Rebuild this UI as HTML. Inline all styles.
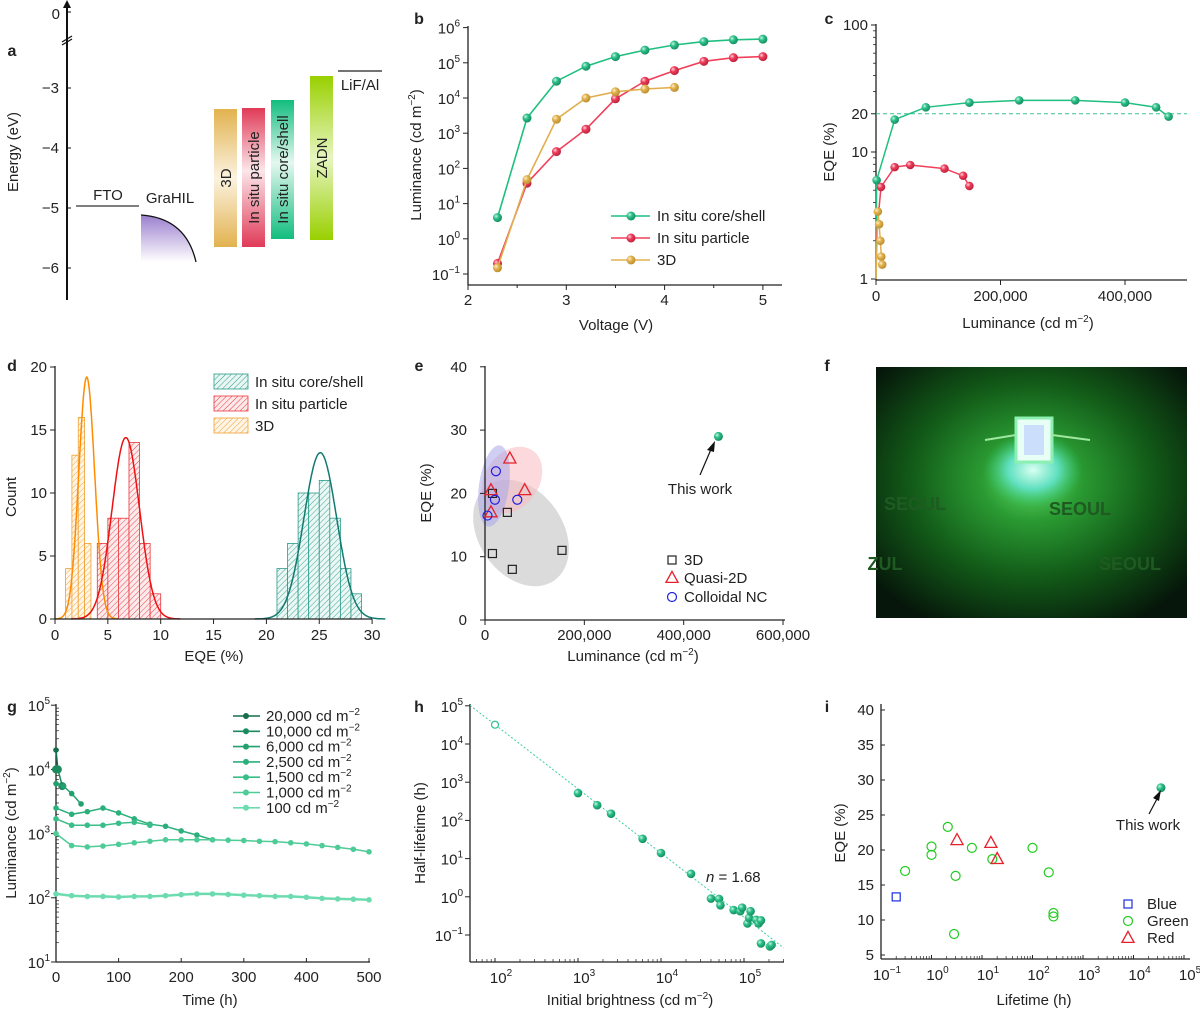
<!DOCTYPE html>
<html><head><meta charset="utf-8"><style>
html,body{margin:0;padding:0;background:#fff;}
svg{display:block;font-family:"Liberation Sans",sans-serif;}
</style></head><body>
<svg id="fig" width="1200" height="1011" viewBox="0 0 1200 1011" xmlns="http://www.w3.org/2000/svg">
<defs>
<linearGradient id="g3d" x1="0" y1="0" x2="0" y2="1"><stop offset="0" stop-color="#e2b24f"/><stop offset="0.5" stop-color="#fbf2df"/><stop offset="1" stop-color="#e2b24f"/></linearGradient>
<linearGradient id="gpa" x1="0" y1="0" x2="0" y2="1"><stop offset="0" stop-color="#e03a57"/><stop offset="0.45" stop-color="#fbe6ea"/><stop offset="1" stop-color="#e03a57"/></linearGradient>
<linearGradient id="gcs" x1="0" y1="0" x2="0" y2="1"><stop offset="0" stop-color="#12bd7e"/><stop offset="0.45" stop-color="#e4f8f0"/><stop offset="1" stop-color="#12bd7e"/></linearGradient>
<linearGradient id="gza" x1="0" y1="0" x2="0" y2="1"><stop offset="0" stop-color="#99d000"/><stop offset="0.5" stop-color="#e6f5c0"/><stop offset="1" stop-color="#99d000"/></linearGradient>
<linearGradient id="ggr" x1="0" y1="0" x2="0" y2="1"><stop offset="0" stop-color="#9b7fcf"/><stop offset="1" stop-color="#ffffff"/></linearGradient>
<pattern id="hT" width="4" height="4" patternUnits="userSpaceOnUse" patternTransform="rotate(45)"><rect width="4" height="4" fill="#e9f6f3"/><line x1="0" y1="0" x2="0" y2="4" stroke="#2a9b88" stroke-width="1"/></pattern>
<pattern id="hR" width="4" height="4" patternUnits="userSpaceOnUse" patternTransform="rotate(45)"><rect width="4" height="4" fill="#fde9ea"/><line x1="0" y1="0" x2="0" y2="4" stroke="#e8353c" stroke-width="1"/></pattern>
<pattern id="hO" width="4" height="4" patternUnits="userSpaceOnUse" patternTransform="rotate(45)"><rect width="4" height="4" fill="#fff5e6"/><line x1="0" y1="0" x2="0" y2="4" stroke="#f0a030" stroke-width="1"/></pattern>
<radialGradient id="glow" cx="0.5" cy="0.45" r="0.65"><stop offset="0" stop-color="#5fe06a"/><stop offset="0.25" stop-color="#2a9a32"/><stop offset="0.6" stop-color="#125a18"/><stop offset="1" stop-color="#06160a"/></radialGradient>
<radialGradient id="glow2" cx="0.5" cy="0.5" r="0.5"><stop offset="0" stop-color="#d8fff0"/><stop offset="0.5" stop-color="#60e0c0"/><stop offset="1" stop-color="#2fbf60" stop-opacity="0"/></radialGradient>
<radialGradient id="ball" cx="0.35" cy="0.35" r="0.7"><stop offset="0" stop-color="#c8f5e2"/><stop offset="0.4" stop-color="#2cc08a"/><stop offset="1" stop-color="#138a5c"/></radialGradient>
<radialGradient id="ballR" cx="0.35" cy="0.35" r="0.7"><stop offset="0" stop-color="#ffd6dc"/><stop offset="0.4" stop-color="#ee3c5a"/><stop offset="1" stop-color="#b81f3a"/></radialGradient>
<radialGradient id="ballY" cx="0.35" cy="0.35" r="0.7"><stop offset="0" stop-color="#fff0cc"/><stop offset="0.4" stop-color="#e2b24f"/><stop offset="1" stop-color="#b88a2a"/></radialGradient>
</defs>
<g id="root"></g>
</svg>
<script>
// ---------- data ----------
// panel b
const bVolt = [2.3,2.6,2.9,3.2,3.5,3.8,4.1,4.4,4.7,5.0];
const bCore = [4,2700,30000,80000,150000,230000,320000,400000,450000,470000];
const bPart = [0.2,38,300,1300,9500,30000,60000,110000,140000,150000];
const b3DVolt = [2.3,2.6,2.9,3.2,3.5,3.8,4.1];
const b3D = [0.15,48,2500,10000,15000,18000,20000];
// panel c
const cCoreL = [0,1000,30000,80000,150000,230000,320000,400000,450000,470000];
const cCoreE = [1,6,18,22.5,24.5,25.5,25.5,24.5,22.5,19];
const cPartL = [0,8000,30000,55000,110000,140000,150000];
const cPartE = [2,5.3,7.6,7.9,7.4,6.5,5.4];
const c3DL = [0,3000,5000,7000,8500,10000];
const c3DE = [1,3.4,2.7,2.0,1.5,1.3];
// panel d
const d3DEdges = [1.0,1.6,2.2,2.8,3.4,4.0];
const d3DCounts = [4,13,16,6,0];
const dPartEdges = [4,5,6,7,8,9,10];
const dPartCounts = [6,8,8,14,6,2];
const dCoreEdges = [21,22,23,24,25,26,27,28,29];
const dCoreCounts = [4,6,10,10,11,8,4,2];
const dFitMean = [3.0,6.7,25.1];
const dFitSd = [0.75,1.3,1.55];
const dFitAmp = [19.2,14.4,13.2];
// panel e
const e3DL = [15000,55000,155000,45000,15000];
const e3DE = [10.5,8,11,17,20];
const eQ2DL = [12000,50000,80000,12000];
const eQ2DE = [20.5,25.5,20.5,17];
const eNCL = [22000,20000,65000,5000];
const eNCE = [23.5,19,19,16.5];
const eThisL = [470000];
const eThisE = [29];
// panel g
const gTime = [0,25,50,75,100,125,150,175,200,225,250,275,300,325,350,375,400,425,450,475,500];
const g20000 = [20000,10000];
const g20000T = [0,3];
const g10000 = [10000,10000,5500];
const g10000T = [0,3,10];
const g6000 = [6000,5500,4200,2900];
const g6000T = [0,12,25,40];
const g2500 = [2500,2000,2200,2500,2100,1700,1400,1300,1100,950,800];
const g1500 = [1700,1350,1350,1350,1450,1500,1350];
const g1000 = [1000,650,620,640,680,720,760,800,800,800,800,790,780,760,750,720,690,650,610,570,520];
const g100 = [115,108,105,105,103,105,105,108,112,115,115,113,110,108,105,105,102,98,96,95,93];
const gLabels = ['20,000','10,000','6,000','2,500','1,500','1,000','100'];
// panel h
const hBright = [1000,1700,2500,6000,10000,23000,40000,50000,52000,75000,90000,95000,110000,115000,120000,140000,150000,160000,160000,205000,215000];
const hLife = [520,250,150,33,14,4,0.9,0.88,0.6,0.45,0.42,0.52,0.2,0.28,0.42,0.25,0.2,0.24,0.06,0.05,0.055];
const hOpenB = [100];
const hOpenL = [32000];
// panel i
const iBlueT = [0.2];
const iBlueE = [13.3];
const iGreenT = [0.3,1,1,2.1,3,2.8,6.3,16,100,210,260,260];
const iGreenE = [17,20.5,19.3,23.3,16.3,8,20.3,18.7,20.3,16.8,11,10.5];
const iRedT = [3.2,15,20];
const iRedE = [21.4,21,18.7];
const iThisT = [35000];
const iThisE = [28.9];

// ---------- helpers ----------
const NS = 'http://www.w3.org/2000/svg';
const root = document.getElementById('root');
function nm(el, n){
  
  
  return el;
}
function mk(tag, a, parent){
  const e = document.createElementNS(NS, tag);
  for (const k in a) e.setAttribute(k, a[k]);
  (parent||root).appendChild(e);
  return e;
}
function G(n){ const g = mk('g',{}); nm(g,n); return g; }
function ln(p,x1,y1,x2,y2,c,w,n,dash){ const e=mk('line',{x1,y1,x2,y2,stroke:c||'#222','stroke-width':w||1.3},p); if(dash)e.setAttribute('stroke-dasharray',dash); nm(e,n||'axis-line'); return e; }
function tx(p,x,y,s,n,opt){ opt=opt||{}; const e=mk('text',{x,y,'font-size':opt.fs||15,'text-anchor':opt.a||'middle',fill:opt.c||'#222'},p); if(opt.fw)e.setAttribute('font-weight',opt.fw); if(opt.rot)e.setAttribute('transform','rotate('+opt.rot+' '+x+' '+y+')'); if(opt.it)e.setAttribute('font-style','italic'); e.textContent=s; nm(e,n); return e; }
function pow(p,x,y,exp,n,anchor){ const e=mk('text',{x,y,'font-size':15,'text-anchor':anchor||'end',fill:'#222'},p); nm(e,n); const t1=mk('tspan',{},e); t1.textContent='10'; const t2=mk('tspan',{dy:-7,'font-size':10},e); t2.textContent=exp; return e; }
function unitLabel(p,x,y,pre,post,n,rot){ const e=mk('text',{x,y,'font-size':15,'text-anchor':'middle',fill:'#222'},p); if(rot)e.setAttribute('transform','rotate(-90 '+x+' '+y+')'); nm(e,n); const a=mk('tspan',{},e); a.textContent=pre; const b=mk('tspan',{dy:-6,'font-size':10},e); b.textContent='−2'; const c=mk('tspan',{dy:6},e); c.textContent=post; return e; }
function path(p,pts,c,w,n){ const e=mk('path',{d:'M'+pts.map(q=>q[0].toFixed(1)+','+q[1].toFixed(1)).join('L'),fill:'none',stroke:c,'stroke-width':w||1.5},p); nm(e,n); return e; }
function dot(p,x,y,r,fill,n,stroke){ const e=mk('circle',{cx:x,cy:y,r,fill,stroke:stroke||'none','stroke-width':1.2},p); nm(e,n); return e; }
function sq(p,x,y,s,c,n){ const e=mk('rect',{x:x-s/2,y:y-s/2,width:s,height:s,fill:'none',stroke:c,'stroke-width':1.2},p); nm(e,n); return e; }
function tri(p,x,y,s,c,n){ const e=mk('path',{d:`M${x},${y-s*0.6}L${x+s*0.55},${y+s*0.4}L${x-s*0.55},${y+s*0.4}Z`,fill:'none',stroke:c,'stroke-width':1.3},p); nm(e,n); return e; }
const L10 = Math.log10;

// ---------- panel a ----------
(function(){
  const p = G('panel-a');
  tx(p,12,56,'a','panel-label',{fw:'bold',fs:16});
  ln(p,67,6,67,300,'#111',2,'energy-axis');
  const ar=mk('path',{d:'M63,8L67,0L71,8Z',fill:'#111'},p); nm(ar,'axis-arrow');
  ln(p,62,42,72,36,'#111',1.3,'axis-break'); ln(p,62,45,72,39,'#111',1.3,'axis-break');
  const ey = v => 88 + (-3 - v) * 60;
  tx(p,60,19,'0','y-tick-label',{a:'end'}); ln(p,67,12,71,12,'#111',1,'y-tick');
  [-3,-4,-5,-6].forEach(v=>{ tx(p,59,ey(v)+5,'−'+Math.abs(v),'y-tick-label',{a:'end'}); ln(p,67,ey(v),71,ey(v),'#111',1,'y-tick'); });
  tx(p,18,152,'Energy (eV)','y-axis-title',{rot:-90});
  ln(p,76,206,139,206,'#555',1.5,'fto-level'); tx(p,108,200,'FTO','fto-label');
  tx(p,170,203,'GraHIL','grahil-label');
  const gr=mk('path',{d:'M141,215 Q186,218 196,262 L141,262 Z',fill:'url(#ggr)'},p); nm(gr,'grahil-band');
  const gc=mk('path',{d:'M141,215 Q186,218 196,262',fill:'none',stroke:'#111','stroke-width':1.3},p); nm(gc,'grahil-edge');
  const bars=[[214,109,247,'url(#g3d)','3D','bar-3d'],[242,108,247,'url(#gpa)','In situ particle','bar-in-situ-particle'],[271,100,239,'url(#gcs)','In situ core/shell','bar-in-situ-core-shell'],[310,76,240,'url(#gza)','ZADN','bar-zadn']];
  bars.forEach(b=>{ const r=mk('rect',{x:b[0],y:b[1],width:23,height:b[2]-b[1],fill:b[3]},p); nm(r,b[5]); tx(p,b[0]+17,(b[1]+b[2])/2,b[4],b[5]+'-label',{rot:-90,fs:15}); });
  ln(p,338,71,382,71,'#222',1.3,'lif-al-level'); tx(p,360,90,'LiF/Al','lif-al-label');
})();

// ---------- panel b ----------
(function(){
  const p = G('panel-b-luminance-voltage');
  const X = v => 468 + (v-2)*98.3, Y = v => 274 - (L10(v)+1)*35.2;
  tx(p,419,24,'b','panel-label',{fw:'bold',fs:16});
  ln(p,468,26,468,285,'#222',1.3,'y-axis'); ln(p,468,285,782,285,'#222',1.3,'x-axis');
  for(let e=-1;e<=6;e++){ pow(p,460,Y(Math.pow(10,e))+6,String(e).replace('-','−'),'y-tick-label'); ln(p,463,Y(Math.pow(10,e)),468,Y(Math.pow(10,e)),'#222',1,'y-tick'); }
  [2,3,4,5].forEach(v=>{ tx(p,X(v),305,String(v),'x-tick-label'); ln(p,X(v),285,X(v),290,'#222',1,'x-tick'); });
  [2.5,3.5,4.5].forEach(v=>ln(p,X(v),285,X(v),288,'#222',1,'x-minor-tick'));
  tx(p,616,330,'Voltage (V)','x-axis-title');
  unitLabel(p,421,155,'Luminance (cd m',')','y-axis-title',true);
  const ser=[[bVolt,bCore,'#1fbf80','url(#ball)','core-shell'],[bVolt,bPart,'#f0405a','url(#ballR)','particle'],[b3DVolt,b3D,'#e0b050','url(#ballY)','3d']];
  ser.forEach(s=>{ const pts=s[0].map((v,i)=>[X(v),Y(s[1][i])]); path(p,pts,s[2],1.6,'line-'+s[4]); pts.forEach(q=>dot(p,q[0],q[1],4.5,s[3],'point-'+s[4])); });
  const leg=[['In situ core/shell','#1fbf80','url(#ball)',216],['In situ particle','#f0405a','url(#ballR)',238],['3D','#e0b050','url(#ballY)',260]];
  leg.forEach(l=>{ ln(p,611,l[3],650,l[3],l[1],1.6,'legend-line'); dot(p,631,l[3],4.5,l[2],'legend-marker'); tx(p,657,l[3]+5,l[0],'legend-entry',{a:'start'}); });
})();

// ---------- panel c ----------
(function(){
  const p = G('panel-c-eqe-luminance');
  const X = v => 876 + v*0.0006225, Y = v => 279 - L10(v)*127;
  tx(p,829,24,'c','panel-label',{fw:'bold',fs:16});
  ln(p,876,24,876,280,'#222',1.3,'y-axis'); ln(p,876,280,1187,280,'#222',1.3,'x-axis');
  [[1,'1'],[10,'10'],[20,'20'],[100,'100']].forEach(t=>{ tx(p,868,Y(t[0])+5,t[1],'y-tick-label',{a:'end'}); ln(p,871,Y(t[0]),876,Y(t[0]),'#222',1,'y-tick'); });
  [2,3,4,5,6,7,8,9,30,40,50,60,70,80,90].forEach(v=>ln(p,873,Y(v),876,Y(v),'#222',0.8,'y-minor-tick'));
  [[0,'0'],[200000,'200,000'],[400000,'400,000']].forEach(t=>{ tx(p,X(t[0]),301,t[1],'x-tick-label'); ln(p,X(t[0]),280,X(t[0]),285,'#222',1,'x-tick'); });
  ln(p,876,Y(20),1187,Y(20),'#3fbf8f',1,'reference-line-20','4,3');
  unitLabel(p,1028,328,'Luminance (cd m',')','x-axis-title');
  tx(p,834,152,'EQE (%)','y-axis-title',{rot:-90});
  const ser=[[cCoreL,cCoreE,'#1fbf80','url(#ball)','core-shell'],[cPartL,cPartE,'#f0405a','url(#ballR)','particle'],[c3DL,c3DE,'#e0b050','url(#ballY)','3d']];
  ser.forEach(s=>{ const pts=s[0].map((v,i)=>[X(v),Y(s[1][i])]); path(p,pts,s[2],1.5,'line-'+s[4]); pts.slice(1).forEach(q=>dot(p,q[0],q[1],4.3,s[3],'point-'+s[4])); });
})();

// ---------- panel d ----------
(function(){
  const p = G('panel-d-histogram');
  const X = v => 55 + v*10.57, Y = v => 619 - v*12.6;
  tx(p,12,371,'d','panel-label',{fw:'bold',fs:16});
  const bars=[[d3DEdges,d3DCounts,'url(#hO)','#f0a030','3d'],[dPartEdges,dPartCounts,'url(#hR)','#e8353c','particle'],[dCoreEdges,dCoreCounts,'url(#hT)','#2a9b88','core-shell']];
  bars.forEach(b=>{ b[1].forEach((c,i)=>{ if(!c)return; const r=mk('rect',{x:X(b[0][i]),y:Y(c),width:X(b[0][i+1])-X(b[0][i]),height:Y(0)-Y(c),fill:b[2],stroke:b[3],'stroke-width':0.8,'fill-opacity':0.9},p); nm(r,'hist-bar-'+b[4]); }); });
  const fc=['#ff8c00','#ee1111','#127a70'];
  dFitMean.forEach((m,k)=>{ const pts=[]; for(let x=m-4*dFitSd[k];x<=m+4*dFitSd[k];x+=0.05) pts.push([X(x),Y(dFitAmp[k]*Math.exp(-0.5*((x-m)/dFitSd[k])**2))]); path(p,pts,fc[k],1.5,'gaussian-fit'); });
  ln(p,55,366,55,619,'#222',1.3,'y-axis'); ln(p,55,619,372,619,'#222',1.3,'x-axis');
  [0,5,10,15,20].forEach(v=>{ tx(p,47,Y(v)+5,String(v),'y-tick-label',{a:'end'}); ln(p,50,Y(v),55,Y(v),'#222',1,'y-tick'); });
  [0,5,10,15,20,25,30].forEach(v=>{ tx(p,X(v),640,String(v),'x-tick-label'); ln(p,X(v),619,X(v),624,'#222',1,'x-tick'); });
  tx(p,214,661,'EQE (%)','x-axis-title'); tx(p,16,497,'Count','y-axis-title',{rot:-90});
  [['In situ core/shell','url(#hT)','#2a9b88',382],['In situ particle','url(#hR)','#e8353c',404],['3D','url(#hO)','#f0a030',426]].forEach(l=>{ const r=mk('rect',{x:214,y:l[3]-8,width:34,height:15,fill:l[1],stroke:l[2],'stroke-width':0.8},p); nm(r,'legend-swatch'); tx(p,255,l[3]+5,l[0],'legend-entry',{a:'start'}); });
})();

// ---------- panel e ----------
(function(){
  const p = G('panel-e-eqe-luminance-comparison');
  const X = v => 485 + v*0.0004967, Y = v => 620 - v*6.33;
  tx(p,419,371,'e','panel-label',{fw:'bold',fs:16});
  const el1=mk('ellipse',{cx:521,cy:533,rx:42,ry:58,fill:'#bdbdbd','fill-opacity':0.55,transform:'rotate(-35 521 533)'},p); nm(el1,'region-3d');
  const el2=mk('ellipse',{cx:512,cy:480,rx:27,ry:36,fill:'#f7b9c0','fill-opacity':0.55,transform:'rotate(35 512 480)'},p); nm(el2,'region-quasi-2d');
  const el3=mk('ellipse',{cx:494,cy:486,rx:15,ry:41,fill:'#a9a6ea','fill-opacity':0.55,transform:'rotate(8 494 486)'},p); nm(el3,'region-colloidal-nc');
  ln(p,485,366,485,620,'#222',1.3,'y-axis'); ln(p,485,620,785,620,'#222',1.3,'x-axis');
  [0,10,20,30,40].forEach(v=>{ tx(p,467,Y(v)+5,String(v),'y-tick-label',{a:'end'}); ln(p,480,Y(v),485,Y(v),'#222',1,'y-tick'); });
  [[0,'0'],[200000,'200,000'],[400000,'400,000'],[600000,'600,000']].forEach(t=>{ tx(p,X(t[0]),640,t[1],'x-tick-label'); ln(p,X(t[0]),620,X(t[0]),625,'#222',1,'x-tick'); });
  unitLabel(p,633,661,'Luminance (cd m',')','x-axis-title'); tx(p,431,493,'EQE (%)','y-axis-title',{rot:-90});
  e3DL.forEach((v,i)=>sq(p,X(v),Y(e3DE[i]),8,'#222','point-3d'));
  eQ2DL.forEach((v,i)=>tri(p,X(v),Y(eQ2DE[i]),11,'#e8202a','point-quasi-2d'));
  eNCL.forEach((v,i)=>dot(p,X(v),Y(eNCE[i]),4.5,'none','point-colloidal-nc','#2020e0'));
  eThisL.forEach((v,i)=>dot(p,X(v),Y(eThisE[i]),4.5,'url(#ball)','point-this-work'));
  ln(p,712,447,700,475,'#111',1.2,'annotation-arrow'); const ah=mk('path',{d:'M715,441L707,450L714,452Z',fill:'#111'},p); nm(ah,'arrow-head');
  tx(p,700,494,'This work','annotation-this-work');
  sq(p,672,560,8,'#222','legend-marker'); tx(p,684,565,'3D','legend-entry',{a:'start'});
  tri(p,672,578,11,'#e8202a','legend-marker'); tx(p,684,583,'Quasi-2D','legend-entry',{a:'start'});
  dot(p,672,597,4.5,'none','legend-marker','#2020e0'); tx(p,684,602,'Colloidal NC','legend-entry',{a:'start'});
})();

// ---------- panel f ----------
(function(){
  const p = G('panel-f-photo');
  tx(p,827,371,'f','panel-label',{fw:'bold',fs:16});
  const bg=mk('rect',{x:876,y:367,width:311,height:251,fill:'url(#glow)'},p); nm(bg,'device-photo');
  const gl=mk('ellipse',{cx:1033,cy:470,rx:50,ry:38,fill:'url(#glow2)'},p); nm(gl,'emission-glow');
  const dev=mk('rect',{x:1016,y:418,width:36,height:44,fill:'#e8fff6',stroke:'#8cf0b0','stroke-width':3},p); nm(dev,'led-device');
  const dv2=mk('rect',{x:1024,y:425,width:20,height:30,fill:'#b8c8ff','fill-opacity':0.6},p); nm(dv2,'led-pixel');
  ln(p,985,440,1016,435,'#9fe8a0',2,'probe-left'); ln(p,1052,435,1090,440,'#9fe8a0',2,'probe-right');
  [['SEOUL',915,510],['SEOUL',1080,515],['SEOUL',1130,570],['ZUL',885,570]].forEach(t=>tx(p,t[1],t[2],t[0],'photo-text',{c:'#1f5a22',fs:18,fw:'bold'}));
})();

// ---------- panel g ----------
(function(){
  const p = G('panel-g-stability');
  const X = v => 56 + v*0.626, Y = v => 962 - (L10(v)-1)*64.2;
  tx(p,12,712,'g','panel-label',{fw:'bold',fs:16});
  ln(p,56,704,56,962,'#222',1.3,'y-axis'); ln(p,56,962,370,962,'#222',1.3,'x-axis');
  for(let e=1;e<=5;e++){ pow(p,50,Y(Math.pow(10,e))+6,String(e),'y-tick-label'); ln(p,51,Y(Math.pow(10,e)),56,Y(Math.pow(10,e)),'#222',1,'y-tick'); }
  for(let e=1;e<5;e++) for(let m=2;m<10;m++) ln(p,56,Y(m*Math.pow(10,e)),59,Y(m*Math.pow(10,e)),'#222',0.7,'y-minor-tick');
  [0,100,200,300,400,500].forEach(v=>{ tx(p,X(v),982,String(v),'x-tick-label'); ln(p,X(v),962,X(v),958,'#222',1,'x-tick'); });
  tx(p,210,1005,'Time (h)','x-axis-title'); unitLabel(p,16,833,'Luminance (cd m',')','y-axis-title',true);
  const cols=['#166e4c','#1b8a5f','#22a06e','#2bb07c','#3abd89','#4ecb97','#6cdcb0'];
  const ser=[[g20000T,g20000],[g10000T,g10000],[g6000T,g6000],[gTime.slice(0,g2500.length),g2500],[gTime.slice(0,g1500.length),g1500],[gTime,g1000],[gTime,g100]];
  ser.forEach((s,k)=>{ const pts=s[0].map((t,i)=>[X(t),Y(s[1][i])]); path(p,pts,cols[k],k==6?2.5:1.5,'series-'+gLabels[k]); pts.forEach(q=>dot(p,q[0],q[1],k==1?4:2.8,cols[k],'marker-'+gLabels[k])); });
  gLabels.forEach((l,k)=>{ const y=716+k*15.3; ln(p,233,y,260,y,cols[k],1.6,'legend-line'); dot(p,246,y,3,cols[k],'legend-marker'); const t=mk('text',{x:266,y:y+5,'font-size':15,fill:'#222'},p); nm(t,'legend-entry'); const a=mk('tspan',{},t); a.textContent=l+' cd m'; const b=mk('tspan',{dy:-6,'font-size':10},t); b.textContent='−2'; });
})();

// ---------- panel h ----------
(function(){
  const p = G('panel-h-lifetime-brightness');
  const X = v => 495 + (L10(v)-2)*83, Y = v => 935 - (L10(v)+1)*38.2;
  tx(p,419,712,'h','panel-label',{fw:'bold',fs:16});
  ln(p,470,704,470,962,'#222',1.3,'y-axis'); ln(p,470,962,784,962,'#222',1.3,'x-axis');
  for(let e=-1;e<=5;e++){ pow(p,463,Y(Math.pow(10,e))+6,String(e).replace('-','−'),'y-tick-label'); ln(p,465,Y(Math.pow(10,e)),470,Y(Math.pow(10,e)),'#222',1,'y-tick'); }
  for(let e=2;e<=5;e++){ pow(p,X(Math.pow(10,e))+6,983,String(e),'x-tick-label','middle'); ln(p,X(Math.pow(10,e)),962,X(Math.pow(10,e)),958,'#222',1,'x-tick'); }
  for(let e=1;e<6;e++) for(let m=2;m<10;m++){ const x=X(m*Math.pow(10,e)); if(x>470&&x<784) ln(p,x,962,x,959,'#222',0.7,'x-minor-tick'); }
  unitLabel(p,630,1005,'Initial brightness (cd m',')','x-axis-title'); tx(p,425,833,'Half-lifetime (h)','y-axis-title',{rot:-90});
  ln(p,X(50),Y(32000*Math.pow(2,1.68)),X(300000),Y(32000*Math.pow(100/300000,1.68)),'#3fcf9f',1,'power-law-fit','2,2');
  hOpenB.forEach((v,i)=>dot(p,X(v),Y(hOpenL[i]),3.5,'#fff','point-open','#2cc08a'));
  hBright.forEach((v,i)=>dot(p,X(v),Y(hLife[i]),4.3,'url(#ball)','point-lifetime'));
  const t=mk('text',{x:706,y:882,'font-size':15,fill:'#222'},p); nm(t,'fit-exponent-label'); const a=mk('tspan',{'font-style':'italic'},t); a.textContent='n'; const b=mk('tspan',{},t); b.textContent=' = 1.68';
})();

// ---------- panel i ----------
(function(){
  const p = G('panel-i-eqe-lifetime');
  const X = v => 881 + (L10(v)+1)*50.5, Y = v => 710 + (40-v)*7;
  tx(p,827,712,'i','panel-label',{fw:'bold',fs:16});
  ln(p,881,704,881,959,'#222',1.3,'y-axis'); ln(p,881,959,1190,959,'#222',1.3,'x-axis');
  [5,10,15,20,25,30,35,40].forEach(v=>{ tx(p,874,Y(v)+5,String(v),'y-tick-label',{a:'end'}); ln(p,881,Y(v),885,Y(v),'#222',1,'y-tick'); });
  for(let e=-1;e<=5;e++){ pow(p,X(Math.pow(10,e))+6,980,String(e).replace('-','−'),'x-tick-label','middle'); ln(p,X(Math.pow(10,e)),959,X(Math.pow(10,e)),955,'#222',1,'x-tick'); }
  for(let e=-1;e<5;e++) for(let m=2;m<10;m++) ln(p,X(m*Math.pow(10,e)),959,X(m*Math.pow(10,e)),956,'#222',0.7,'x-minor-tick');
  tx(p,1034,1005,'Lifetime (h)','x-axis-title'); tx(p,845,833,'EQE (%)','y-axis-title',{rot:-90});
  iBlueT.forEach((v,i)=>sq(p,X(v),Y(iBlueE[i]),8,'#1a2ee0','point-blue'));
  iGreenT.forEach((v,i)=>dot(p,X(v),Y(iGreenE[i]),4.5,'none','point-green','#22cc22'));
  iRedT.forEach((v,i)=>tri(p,X(v),Y(iRedE[i]),11,'#e8202a','point-red'));
  iThisT.forEach((v,i)=>dot(p,X(v),Y(iThisE[i]),4.5,'url(#ball)','point-this-work'));
  ln(p,1158,797,1149,814,'#111',1.2,'annotation-arrow'); const ah=mk('path',{d:'M1161,790L1153,798L1159,801Z',fill:'#111'},p); nm(ah,'arrow-head');
  tx(p,1148,830,'This work','annotation-this-work');
  sq(p,1128,904,8,'#1a2ee0','legend-marker'); tx(p,1147,909,'Blue','legend-entry',{a:'start'});
  dot(p,1128,921,4.5,'none','legend-marker','#22cc22'); tx(p,1147,926,'Green','legend-entry',{a:'start'});
  tri(p,1128,938,11,'#e8202a','legend-marker'); tx(p,1147,943,'Red','legend-entry',{a:'start'});
})();
</script>
</body></html>
